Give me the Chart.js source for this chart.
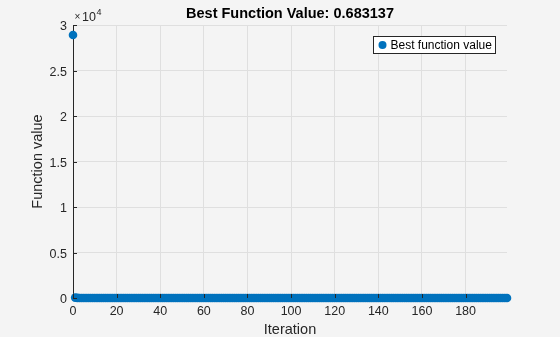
<!DOCTYPE html>
<html><head><meta charset="utf-8">
<script src="https://cdn.jsdelivr.net/npm/chart.js@4/dist/chart.umd.min.js"></script>
<style>html,body{margin:0;padding:0;background:#f4f4f4;}#wrap{width:560px;height:337px;position:relative;}</style>
</head><body><div id="wrap"><canvas id="c" width="560" height="337"></canvas></div>
<script>
const titleText = "Best Function Value: 0.683137";
const seriesName = "Best function value";
const xLabel = "Iteration";
const yLabel = "Function value";
const xTicks = [0, 20, 40, 60, 80, 100, 120, 140, 160, 180];
const yTicks = [0, 0.5, 1, 1.5, 2, 2.5, 3];
const yExponent = 4;
const bestValues = [
28900, 42.6, 12.9, 6.41, 3.85, 2.12, 1.47, 1.18, 0.951, 0.951,
0.951, 0.872, 0.872, 0.812, 0.770, 0.770, 0.741, 0.741, 0.718, 0.718,
0.702, 0.702, 0.695, 0.695, 0.689, 0.689, 0.686, 0.686, 0.684, 0.684,
0.683137, 0.683137, 0.683137, 0.683137, 0.683137, 0.683137, 0.683137, 0.683137, 0.683137, 0.683137,
0.683137, 0.683137, 0.683137, 0.683137, 0.683137, 0.683137, 0.683137, 0.683137, 0.683137, 0.683137,
0.683137, 0.683137, 0.683137, 0.683137, 0.683137, 0.683137, 0.683137, 0.683137, 0.683137, 0.683137,
0.683137, 0.683137, 0.683137, 0.683137, 0.683137, 0.683137, 0.683137, 0.683137, 0.683137, 0.683137,
0.683137, 0.683137, 0.683137, 0.683137, 0.683137, 0.683137, 0.683137, 0.683137, 0.683137, 0.683137,
0.683137, 0.683137, 0.683137, 0.683137, 0.683137, 0.683137, 0.683137, 0.683137, 0.683137, 0.683137,
0.683137, 0.683137, 0.683137, 0.683137, 0.683137, 0.683137, 0.683137, 0.683137, 0.683137, 0.683137,
0.683137, 0.683137, 0.683137, 0.683137, 0.683137, 0.683137, 0.683137, 0.683137, 0.683137, 0.683137,
0.683137, 0.683137, 0.683137, 0.683137, 0.683137, 0.683137, 0.683137, 0.683137, 0.683137, 0.683137,
0.683137, 0.683137, 0.683137, 0.683137, 0.683137, 0.683137, 0.683137, 0.683137, 0.683137, 0.683137,
0.683137, 0.683137, 0.683137, 0.683137, 0.683137, 0.683137, 0.683137, 0.683137, 0.683137, 0.683137,
0.683137, 0.683137, 0.683137, 0.683137, 0.683137, 0.683137, 0.683137, 0.683137, 0.683137, 0.683137,
0.683137, 0.683137, 0.683137, 0.683137, 0.683137, 0.683137, 0.683137, 0.683137, 0.683137, 0.683137,
0.683137, 0.683137, 0.683137, 0.683137, 0.683137, 0.683137, 0.683137, 0.683137, 0.683137, 0.683137,
0.683137, 0.683137, 0.683137, 0.683137, 0.683137, 0.683137, 0.683137, 0.683137, 0.683137, 0.683137,
0.683137, 0.683137, 0.683137, 0.683137, 0.683137, 0.683137, 0.683137, 0.683137, 0.683137, 0.683137,
0.683137, 0.683137, 0.683137, 0.683137, 0.683137, 0.683137, 0.683137, 0.683137, 0.683137, 0.683137
];

const FONT = "'Liberation Sans', Arial, Helvetica, sans-serif";
const AX = '#262626';
const BLUE = '#0072BD';

const points = bestValues.map((v, i) => ({x: i, y: v}));
const scaleY = Math.pow(10, yExponent);

const decor = {
  id: 'decor',
  afterDatasetsDraw(chart) {
    const ctx = chart.ctx, a = chart.chartArea;
    const xs = chart.scales.x, ys = chart.scales.y;
    ctx.save();
    ctx.strokeStyle = AX; ctx.lineWidth = 1;
    ctx.beginPath();
    yTicks.forEach(t => { const p = Math.round(ys.getPixelForValue(t * scaleY)) + 0.5; ctx.moveTo(a.left, p); ctx.lineTo(a.left + 4, p); });
    xTicks.forEach(t => { const p = Math.round(xs.getPixelForValue(t)) + 0.5; ctx.moveTo(p, a.bottom); ctx.lineTo(p, a.bottom - 4); });
    ctx.stroke();
    ctx.fillStyle = '#000';
    ctx.font = "bold 14.5px " + FONT;
    ctx.textAlign = 'center'; ctx.textBaseline = 'middle';
    ctx.fillText(titleText, (a.left + a.right) / 2, 13.5);
    ctx.fillStyle = AX;
    ctx.textAlign = 'left'; ctx.textBaseline = 'alphabetic';
    ctx.font = "10px " + FONT;
    ctx.fillText("\u00d7", 74.5, 19.5);
    ctx.font = "12.5px " + FONT;
    ctx.fillText("10", 82, 20.5);
    ctx.font = "9px " + FONT;
    ctx.fillText(String(yExponent), 96.5, 14.5);
    const lx = 373.5, ly = 36.5, lw = 122, lh = 17;
    ctx.fillStyle = '#fff'; ctx.fillRect(lx, ly, lw, lh);
    ctx.strokeStyle = AX; ctx.strokeRect(lx, ly, lw, lh);
    ctx.fillStyle = BLUE; ctx.beginPath(); ctx.arc(382.5, 45, 4, 0, Math.PI * 2); ctx.fill();
    ctx.fillStyle = '#000'; ctx.font = "12px " + FONT; ctx.textBaseline = 'middle';
    ctx.fillText(seriesName, 390.5, 45.5);
    ctx.restore();
  }
};

new Chart(document.getElementById('c'), {
  type: 'scatter',
  data: { datasets: [{ label: seriesName, data: points, backgroundColor: BLUE, borderWidth: 0, pointRadius: 4.3, pointHoverRadius: 4.3, clip: false }] },
  options: {
    responsive: false, animation: false, devicePixelRatio: 1,
    layout: { padding: { top: 25, right: 53, bottom: 0, left: 29 } },
    plugins: { legend: { display: false }, title: { display: false }, tooltip: { enabled: false } },
    scales: {
      x: {
        type: 'linear', min: 0, max: bestValues.length - 1,
        afterFit: s => { s.height = 39; },
        afterBuildTicks: s => { s.ticks = xTicks.map(v => ({value: v})); },
        ticks: { includeBounds: false, padding: 6, color: AX, font: { family: FONT, size: 12.5 }, maxRotation: 0 },
        grid: { color: '#dfdfdf', drawTicks: false },
        border: { color: AX, width: 1 },
        title: { display: true, text: xLabel, color: AX, padding: 0, font: { family: FONT, size: 14.5, lineHeight: 0.9 } }
      },
      y: {
        type: 'linear', min: 0, max: 3 * scaleY,
        afterFit: s => { s.width = 44; },
        afterBuildTicks: s => { s.ticks = yTicks.map(v => ({value: v * scaleY})); },
        ticks: { padding: 6, labelOffset: 2, color: AX, font: { family: FONT, size: 12.5 }, callback: v => String(v / scaleY) },
        grid: { color: '#dfdfdf', drawTicks: false },
        border: { color: AX, width: 1 },
        title: { display: true, text: yLabel, color: AX, padding: 0, font: { family: FONT, size: 14.5 } }
      }
    }
  },
  plugins: [decor]
});
</script></body></html>
